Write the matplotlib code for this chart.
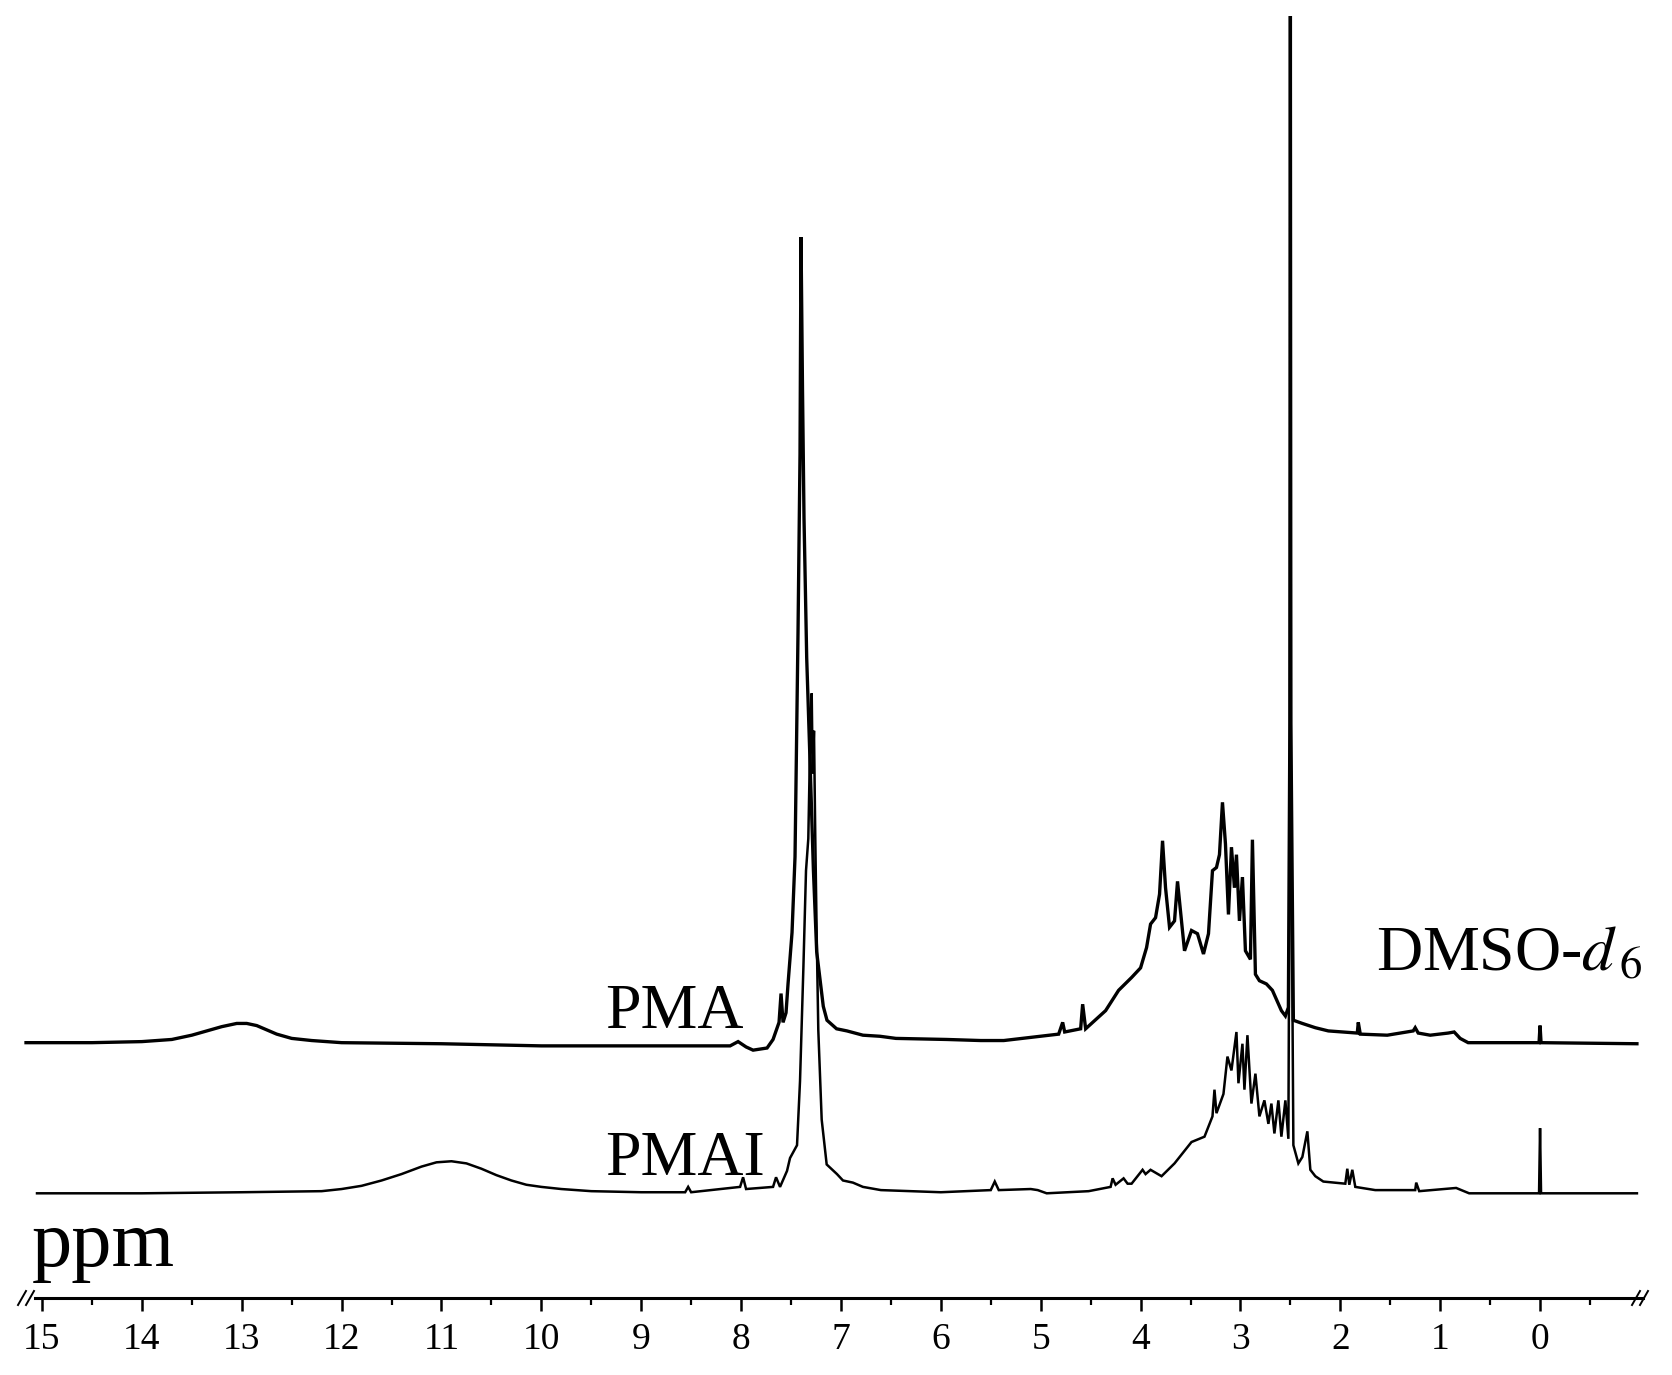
import matplotlib
matplotlib.use("Agg")
import matplotlib.pyplot as plt
from matplotlib.ticker import FixedLocator
from matplotlib.lines import Line2D

plt.rcParams['font.family'] = ['Liberation Serif', 'DejaVu Serif']
plt.rcParams['mathtext.fontset'] = 'stix'

# ---- data (chemical shift in ppm, intensity in arbitrary units) ----
pma_ppm = [15.16, 14.5, 14.0, 13.7, 13.5, 13.35, 13.2, 13.05, 12.95, 12.85,
           12.75, 12.65, 12.5, 12.3, 12.0, 11.0, 10.0, 9.0, 8.11, 8.03,
           7.95, 7.88, 7.74, 7.68, 7.62, 7.60, 7.58, 7.55, 7.53, 7.49,
           7.46, 7.43, 7.41, 7.40, 7.385, 7.37, 7.343, 7.31, 7.276, 7.243,
           7.177, 7.14, 7.044, 6.94, 6.78, 6.61, 6.45, 5.94, 5.6, 5.37,
           4.82, 4.78, 4.76, 4.60, 4.58, 4.55, 4.35, 4.22, 4.09, 4.00,
           3.94, 3.90, 3.85, 3.81, 3.78, 3.75, 3.71, 3.66, 3.63, 3.60,
           3.56, 3.49, 3.43, 3.37, 3.32, 3.28, 3.24, 3.21, 3.18, 3.15,
           3.12, 3.09, 3.06, 3.04, 3.01, 2.98, 2.95, 2.90, 2.88, 2.85,
           2.81, 2.74, 2.68, 2.59, 2.55, 2.52, 2.505, 2.50, 2.495, 2.47,
           2.38, 2.25, 2.12, 1.83, 1.82, 1.80, 1.53, 1.27, 1.25, 1.22,
           1.10, 0.92, 0.86, 0.80, 0.72, 0.01, 0.0, -0.01, -0.97]
pma_int = [1, 1, 2, 4, 8, 12, 16, 19, 19, 17,
           13, 9, 5, 3, 1, 0, -2, -2, -2, 2,
           -3, -6, -4, 4, 20, 47, 20, 29, 56, 104,
           175, 385, 552, 755, 612, 492, 361, 265, 163, 86,
           35, 22, 14, 12, 8, 7, 5, 4, 3, 3,
           9, 20, 11, 14, 37, 14, 31, 50, 62, 71,
           90, 112, 118, 140, 190, 146, 109, 115, 152, 124,
           87, 106, 103, 84, 103, 162, 165, 177, 226, 187,
           121, 184, 146, 177, 115, 156, 87, 79, 191, 65,
           59, 56, 50, 31, 26, 34, 300, 962, 300, 22,
           19, 15, 12, 10, 20, 9, 8, 12, 15, 10,
           8, 10, 11, 5, 1, 1, 17, 1, 0]

pmai_ppm = [15.05, 14.0, 13.0, 12.2, 12.0, 11.8, 11.6, 11.4, 11.2, 11.05,
            10.9, 10.75, 10.6, 10.45, 10.3, 10.15, 10.0, 9.8, 9.5, 9.0,
            8.56, 8.53, 8.50, 8.01, 7.98, 7.95, 7.68, 7.65, 7.61, 7.54,
            7.51, 7.44, 7.41, 7.376, 7.35, 7.327, 7.31, 7.293, 7.283, 7.27,
            7.257, 7.243, 7.227, 7.193, 7.143, 7.04, 6.98, 6.88, 6.78, 6.6,
            6.0, 5.50, 5.46, 5.42, 5.10, 5.03, 4.94, 4.52, 4.30, 4.28,
            4.25, 4.17, 4.13, 4.09, 3.98, 3.95, 3.90, 3.79, 3.66, 3.49,
            3.36, 3.28, 3.26, 3.24, 3.17, 3.13, 3.09, 3.04, 3.02, 2.98,
            2.96, 2.93, 2.89, 2.85, 2.81, 2.76, 2.72, 2.69, 2.66, 2.62,
            2.59, 2.55, 2.52, 2.505, 2.50, 2.495, 2.47, 2.42, 2.38, 2.33,
            2.30, 2.25, 2.17, 1.95, 1.93, 1.91, 1.88, 1.85, 1.65, 1.25,
            1.24, 1.21, 0.84, 0.71, 0.01, 0.0, -0.01, -0.97]
pmai_int = [0, 0, 1, 2, 4, 7, 12, 18, 25, 29,
            30, 28, 23, 17, 12, 8, 6, 4, 2, 1,
            1, 6, 1, 6, 15, 4, 6, 15, 6, 21,
            33, 45, 105, 212, 302, 332, 416, 468, 393, 433,
            332, 242, 153, 69, 27, 18, 12, 10, 6, 3,
            1, 3, 11, 3, 4, 3, 0, 2, 6, 14,
            8, 14, 9, 9, 22, 18, 22, 16, 28, 48,
            53, 72, 97, 75, 93, 128, 115, 151, 103, 140,
            97, 148, 84, 112, 72, 87, 65, 84, 56, 87,
            53, 87, 51, 400, 1100, 400, 45, 28, 34, 58,
            22, 16, 11, 9, 23, 8, 22, 6, 3, 3,
            10, 2, 5, 0, 0, 61, 0, 0]

series_names = ["PMA", "PMAI"]
series_offsets = [238, 98]
solvent_label = r"DMSO-$\mathit{d}_{\,\mathit{6}}$"
axis_label = "ppm"
tick_values = list(range(0, 16))
tick_labels = [str(v) for v in tick_values]
minor_values = [v + 0.5 for v in range(-1, 15)]

# ---- figure ----
W, H = 1672, 1375
fig = plt.figure(figsize=(W / 100, H / 100), dpi=100)
xl, xr = 15.3, -1.1
px0, px_per = 42.0, 99.87   # pixel of 15 ppm, pixels per ppm
left = (px0 - (xl - 15) * px_per) / W
right = (px0 + (15 - xr) * px_per) / W
axis_px = 1298
ax = fig.add_axes([left, (H - axis_px) / H, right - left, axis_px / H])
ax.set_xlim(xl, xr)
ax.set_ylim(0, 1215)

ax.plot(pma_ppm, [v + series_offsets[0] for v in pma_int], color='black', lw=2.4,
        solid_joinstyle='miter')
ax.plot(pmai_ppm, [v + series_offsets[1] for v in pmai_int], color='black', lw=1.8,
        solid_joinstyle='miter')

for s in ['top', 'left', 'right']:
    ax.spines[s].set_visible(False)
ax.spines['bottom'].set_linewidth(2.2)
ax.spines['bottom'].set_bounds(15.07, -1.03)
ax.yaxis.set_visible(False)
ax.xaxis.set_major_locator(FixedLocator(tick_values))
ax.set_xticklabels(tick_labels)
ax.xaxis.set_minor_locator(FixedLocator(minor_values))
ax.tick_params(axis='x', which='major', direction='out', length=9.5, width=1.8,
               labelsize=27, pad=8)
ax.tick_params(axis='x', which='minor', direction='out', length=5, width=1.6)

# break marks on the axis ends
for xp in [22, 30, 1636, 1644]:
    fig.add_artist(Line2D([(xp - 4) / W, (xp + 4) / W],
                          [(H - axis_px - 7) / H, (H - axis_px + 7) / H],
                          transform=fig.transFigure, color='black', lw=1.4))

ax.text(9.36, 253, series_names[0], fontsize=46, ha='left', va='baseline')
ax.text(9.36, 115, series_names[1], fontsize=46, ha='left', va='baseline')
ax.text(1.64, 307, solvent_label, fontsize=46, ha='left', va='baseline')
ax.text(15.1, 30, axis_label, fontsize=58, ha='left', va='baseline')

fig.savefig("out.png", dpi=100)
